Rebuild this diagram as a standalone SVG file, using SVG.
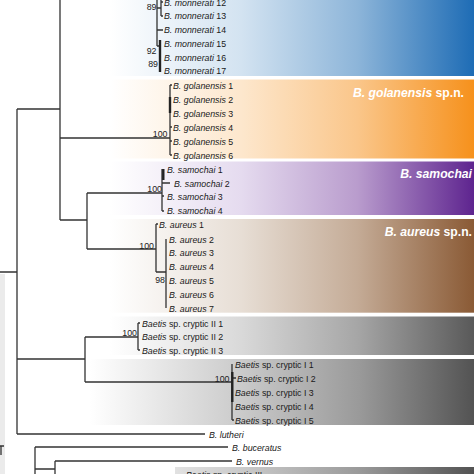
<svg xmlns="http://www.w3.org/2000/svg" width="474" height="474" viewBox="0 0 474 474">
<style>
.tip{font-family:"Liberation Sans",Arial,sans-serif;font-size:8.8px;fill:#1a1a1a}
.tip .i{font-style:italic}
.bs{font-family:"Liberation Sans",Arial,sans-serif;font-size:8.8px;fill:#222;text-anchor:end}
.cl{font-family:"Liberation Sans",Arial,sans-serif;font-size:12.2px;font-weight:bold;fill:#fff;text-anchor:end}
.cl .i{font-style:italic}
.br{fill:none;stroke:#333;stroke-width:1.3}
.th{fill:none;stroke:#222;stroke-width:2.4}
</style>
<defs>
<linearGradient id="gBlue" gradientUnits="userSpaceOnUse" x1="110" y1="0" x2="474" y2="0">
<stop offset="0" stop-color="#ffffff"/><stop offset="0.36" stop-color="#d3e3f1"/><stop offset="0.68" stop-color="#8db5d9"/><stop offset="1" stop-color="#1e6cb5"/>
</linearGradient>
<linearGradient id="gOrange" gradientUnits="userSpaceOnUse" x1="110" y1="0" x2="474" y2="0">
<stop offset="0" stop-color="#ffffff"/><stop offset="0.36" stop-color="#fde7cd"/><stop offset="0.68" stop-color="#fac68a"/><stop offset="1" stop-color="#f6911c"/>
</linearGradient>
<linearGradient id="gPurple" gradientUnits="userSpaceOnUse" x1="110" y1="0" x2="474" y2="0">
<stop offset="0" stop-color="#ffffff"/><stop offset="0.36" stop-color="#e5dbef"/><stop offset="0.68" stop-color="#b99ccd"/><stop offset="1" stop-color="#5e248f"/>
</linearGradient>
<linearGradient id="gBrown" gradientUnits="userSpaceOnUse" x1="110" y1="0" x2="474" y2="0">
<stop offset="0" stop-color="#ffffff"/><stop offset="0.36" stop-color="#e7ded5"/><stop offset="0.68" stop-color="#c4ab96"/><stop offset="1" stop-color="#8a5a35"/>
</linearGradient>
<linearGradient id="gGrey" gradientUnits="userSpaceOnUse" x1="110" y1="0" x2="474" y2="0">
<stop offset="0" stop-color="#ffffff"/><stop offset="0.36" stop-color="#d9d9d9"/><stop offset="0.68" stop-color="#a6a6a6"/><stop offset="1" stop-color="#595959"/>
</linearGradient>
<linearGradient id="gGrey2" gradientUnits="userSpaceOnUse" x1="90" y1="0" x2="474" y2="0">
<stop offset="0" stop-color="#ffffff"/><stop offset="0.39" stop-color="#cbcbcb"/><stop offset="0.7" stop-color="#9a9a9a"/><stop offset="1" stop-color="#535353"/>
</linearGradient>
</defs>
<rect width="474" height="474" fill="#ffffff"/>
<g id="bands">
<rect x="110" y="-5" width="364" height="81" fill="url(#gBlue)"/>
<rect x="110" y="79.5" width="364" height="79" fill="url(#gOrange)"/>
<rect x="110" y="161.5" width="364" height="53.5" fill="url(#gPurple)"/>
<rect x="110" y="219" width="364" height="93.7" fill="url(#gBrown)"/>
<rect x="110" y="316.5" width="364" height="38.5" fill="url(#gGrey)"/>
<rect x="90" y="359" width="384" height="66" fill="url(#gGrey2)"/>
<rect x="175" y="467" width="299" height="10" fill="url(#gGrey2)"/>
<rect x="0" y="274" width="5" height="200" fill="#ebebeb"/>
</g>
<g id="connectors">
<path class="br" d="M0,272H17M17,109V434M17,109H60M60,0V220"/>
<path class="br" d="M157,0V46M157,30H163M157,46H160M161,0V16M157,8H161M161,2H163M161,16H163"/>
<path class="th" d="M160,40V72"/>
<path class="br" d="M60,138H170M170,85V155M170,85H172M170,127H172M170,141H172M170,155H172"/>
<path class="th" d="M170,97V113"/>
<path class="br" d="M60,220H87M87,193V249M87,193H162M162,169V211M162,183H170M162,196H164M162,211H164"/>
<path class="th" d="M163.3,169V180"/>
<path class="br" d="M87,249H156M156,224V272M156,224H158M156,272H166M166,239V308"/>
<path class="br" d="M17,359H85M85,337V382M85,337H138M138,323V350M138,323H140M138,350H140M85,382H232M232,364V420M232,378H236M232,420H234"/>
<path class="th" d="M232.3,372V402"/>
<path class="br" d="M17,434H205"/>
<path class="br" d="M35,447H228M35,447V474M55,461H232M55,461V474M35,469H55M0,446H4M1,446V455"/>
</g>
<g id="labels-bootstrap">
<text class="bs" x="156.5" y="10">89</text>
<text class="bs" x="156.5" y="53.5">92</text>
<text class="bs" x="158" y="66.8">89</text>
<text class="bs" x="167.5" y="136.5">100</text>
<text class="bs" x="162" y="191.5">100</text>
<text class="bs" x="154" y="248.5">100</text>
<text class="bs" x="165" y="282.5">98</text>
<text class="bs" x="137" y="335.5">100</text>
<text class="bs" x="229.5" y="381.5">100</text>
</g>
<g id="clade-monnerati">
<text class="tip" x="164" y="5.5"><tspan class="i">B. monnerati</tspan> 12</text>
<text class="tip" x="164" y="18.5"><tspan class="i">B. monnerati</tspan> 13</text>
<text class="tip" x="164" y="32.5"><tspan class="i">B. monnerati</tspan> 14</text>
<text class="tip" x="164" y="46.5"><tspan class="i">B. monnerati</tspan> 15</text>
<text class="tip" x="164" y="60.5"><tspan class="i">B. monnerati</tspan> 16</text>
<text class="tip" x="164" y="74.3"><tspan class="i">B. monnerati</tspan> 17</text>
</g>
<g id="clade-golanensis">
<text class="cl" x="464" y="97"><tspan class="i">B. golanensis</tspan> sp.n.</text>
<text class="tip" x="173" y="89"><tspan class="i">B. golanensis</tspan> 1</text>
<text class="tip" x="173" y="102.5"><tspan class="i">B. golanensis</tspan> 2</text>
<text class="tip" x="173" y="116.5"><tspan class="i">B. golanensis</tspan> 3</text>
<text class="tip" x="173" y="130.5"><tspan class="i">B. golanensis</tspan> 4</text>
<text class="tip" x="173" y="144.5"><tspan class="i">B. golanensis</tspan> 5</text>
<text class="tip" x="173" y="158.5"><tspan class="i">B. golanensis</tspan> 6</text>
</g>
<g id="clade-samochai">
<text class="cl" x="472" y="177.7"><tspan class="i">B. samochai</tspan></text>
<text class="tip" x="167" y="172.8"><tspan class="i">B. samochai</tspan> 1</text>
<text class="tip" x="174" y="186.8"><tspan class="i">B. samochai</tspan> 2</text>
<text class="tip" x="167" y="200.2"><tspan class="i">B. samochai</tspan> 3</text>
<text class="tip" x="167" y="214.3"><tspan class="i">B. samochai</tspan> 4</text>
</g>
<g id="clade-aureus">
<text class="cl" x="472" y="236"><tspan class="i">B. aureus</tspan> sp.n.</text>
<text class="tip" x="159" y="227.8"><tspan class="i">B. aureus</tspan> 1</text>
<text class="tip" x="169" y="242.5"><tspan class="i">B. aureus</tspan> 2</text>
<text class="tip" x="169" y="256.2"><tspan class="i">B. aureus</tspan> 3</text>
<text class="tip" x="169" y="270.2"><tspan class="i">B. aureus</tspan> 4</text>
<text class="tip" x="169" y="283.8"><tspan class="i">B. aureus</tspan> 5</text>
<text class="tip" x="169" y="297.8"><tspan class="i">B. aureus</tspan> 6</text>
<text class="tip" x="169" y="311.8"><tspan class="i">B. aureus</tspan> 7</text>
</g>
<g id="clade-cryptic-II">
<text class="tip" x="142" y="326.8"><tspan class="i">Baetis</tspan> sp. cryptic II 1</text>
<text class="tip" x="142" y="340"><tspan class="i">Baetis</tspan> sp. cryptic II 2</text>
<text class="tip" x="142" y="353.5"><tspan class="i">Baetis</tspan> sp. cryptic II 3</text>
</g>
<g id="clade-cryptic-I">
<text class="tip" x="235" y="367.8"><tspan class="i">Baetis</tspan> sp. cryptic I 1</text>
<text class="tip" x="237" y="381.8"><tspan class="i">Baetis</tspan> sp. cryptic I 2</text>
<text class="tip" x="235" y="395.8"><tspan class="i">Baetis</tspan> sp. cryptic I 3</text>
<text class="tip" x="235" y="409.5"><tspan class="i">Baetis</tspan> sp. cryptic I 4</text>
<text class="tip" x="235" y="423.5"><tspan class="i">Baetis</tspan> sp. cryptic I 5</text>
</g>
<g id="outgroups">
<text class="tip" x="209" y="437.5"><tspan class="i">B. lutheri</tspan></text>
<text class="tip" x="232" y="450.5"><tspan class="i">B. buceratus</tspan></text>
<text class="tip" x="236" y="464.5"><tspan class="i">B. vernus</tspan></text>
<text class="tip" x="186" y="477.5"><tspan class="i">Baetis</tspan> sp. cryptic III</text>
</g>
</svg>
